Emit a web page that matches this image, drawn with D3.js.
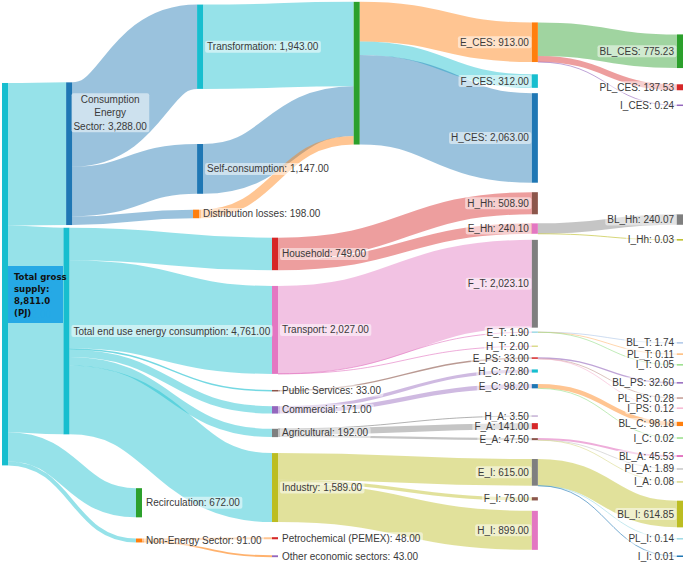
<!DOCTYPE html>
<html><head><meta charset="utf-8">
<script src="https://cdn.jsdelivr.net/npm/d3@7"></script>
<style>body{margin:0;background:#fff}svg{display:block}</style>
</head><body><svg id="c" width="685" height="563"></svg>
<script>
// ---------- DATA ----------
const nodeNames = [
 "Total gross domestic supply","Consumption Energy Sector","Total end use energy consumption","Recirculation","Non-Energy Sector",
 "Transformation","Self-consumption","Distribution losses","CES",
 "Household","Transport","Public Services","Commercial","Agricultural","Industry","Petrochemical (PEMEX)","Other economic sectors",
 "E_CES","F_CES","H_CES","H_Hh","E_Hh","F_T","E_T","H_T","E_PS","H_C","E_C","H_A","F_A","E_A","E_I","F_I","H_I",
 "BL_CES","PL_CES","I_CES","BL_Hh","I_Hh","BL_T","PL_T","I_T","BL_PS","PL_PS","I_PS","BL_C","I_C","BL_A","PL_A","I_A","BL_I","PL_I","I_I"
];
const nodeColors = [
 "#17becf","#1f77b4","#17becf","#2ca02c","#ff7f0e",
 "#17becf","#1f77b4","#ff7f0e","#2ca02c",
 "#d62728","#e377c2","#8c564b","#9467bd","#7f7f7f","#bcbd22","#d62728","#9467bd",
 "#ff7f0e","#17becf","#1f77b4","#8c564b","#e377c2","#7f7f7f","#9edae5","#dbdb8d","#d62728","#17becf","#1f77b4","#c5b0d5","#d62728","#8c564b","#7f7f7f","#8c564b","#e377c2",
 "#2ca02c","#d62728","#9467bd","#7f7f7f","#bcbd22","#aec7e8","#ffbb78","#98df8a","#9467bd","#c49c94","#f7b6d2","#ff7f0e","#98df8a","#e377c2","#c7c7c7","#dbdb8d","#bcbd22","#9edae5","#1f77b4"
];
const linkSources = [
 "Total gross domestic supply","Total gross domestic supply","Total gross domestic supply","Total gross domestic supply",
 "Consumption Energy Sector","Consumption Energy Sector","Consumption Energy Sector",
 "Transformation","Self-consumption","Distribution losses",
 "CES","CES","CES",
 "E_CES","E_CES","E_CES",
 "Total end use energy consumption","Total end use energy consumption","Total end use energy consumption","Total end use energy consumption","Total end use energy consumption","Total end use energy consumption",
 "Household","Household","E_Hh","E_Hh",
 "Transport","Transport","Transport","E_T","E_T","E_T",
 "Public Services","E_PS","E_PS","E_PS",
 "Commercial","Commercial","E_C","E_C",
 "Agricultural","Agricultural","Agricultural","E_A","E_A","E_A",
 "Industry","Industry","Industry","E_I","E_I","E_I",
 "Non-Energy Sector","Non-Energy Sector"
];
const linkTargets = [
 "Consumption Energy Sector","Total end use energy consumption","Recirculation","Non-Energy Sector",
 "Transformation","Self-consumption","Distribution losses",
 "CES","CES","CES",
 "E_CES","F_CES","H_CES",
 "BL_CES","PL_CES","I_CES",
 "Household","Transport","Public Services","Commercial","Agricultural","Industry",
 "H_Hh","E_Hh","BL_Hh","I_Hh",
 "F_T","E_T","H_T","BL_T","PL_T","I_T",
 "E_PS","BL_PS","PL_PS","I_PS",
 "H_C","E_C","BL_C","I_C",
 "H_A","F_A","E_A","BL_A","PL_A","I_A",
 "E_I","F_I","H_I","BL_I","PL_I","I_I",
 "Petrochemical (PEMEX)","Other economic sectors"
];
const linkValues = [
 3288,4761,672,91,
 1943,1147,198,
 1943,1147,198,
 913,312,2063,
 775.23,137.53,0.24,
 749,2027,33,171,192,1589,
 508.9,240.1,240.07,0.03,
 2023.1,1.9,2.0,1.74,0.11,0.05,
 33,32.6,0.28,0.12,
 72.8,98.2,98.18,0.02,
 3.5,141,47.5,45.53,1.89,0.08,
 615,75,899,614.85,0.14,0.01,
 48,43
];
// node arrangement (fractions of the plot, like plotly node.x / node.y)
const nodeX = [
 0,0.095,0.091,0.1985,0.1985,
 0.289,0.289,0.283,0.521,
 0.4,0.4,0.4,0.4,0.4,0.4,0.4,0.4,
 0.785,0.785,0.785,0.785,0.785,0.785,0.785,0.785,0.785,0.785,0.785,0.785,0.785,0.785,0.785,0.785,0.785,
 1,1,1,1,1,1,1,1,1,1,1,1,1,1,1,1,1,1,1
];
const nodeY = [
 0.487,0.273,0.588,0.893,0.960,
 0.083,0.300,0.380,0.130,
 0.451,0.586,0.694,0.728,0.769,0.866,0.956,0.988,
 0.075,0.144,0.245,0.361,0.406,0.504,0.590,0.615,0.636,0.659,0.686,0.739,0.757,0.780,0.839,0.886,0.942,
 0.091,0.155,0.187,0.390,0.426,0.609,0.629,0.648,0.680,0.707,0.725,0.753,0.778,0.810,0.833,0.856,0.913,0.957,0.988
];
const hiddenLabels = ["CES"];
const specialLabels = {
 "Consumption Energy Sector": {lines:["Consumption","Energy","Sector: {v}"], anchor:"middle", dx:38, dy:-41, lh:13.5},
 "Total gross domestic supply": {lines:["Total gross","domestic","supply:","{v}"], anchor:"start", dx:4, dy:22, lh:12.5, faint:true}
};
const overlayLines = ["Total gross","supply:","8,811.0","(PJ)"];

// ---------- LAYOUT ----------
const svg = d3.select("#c");
const xS = d3.scaleLinear().domain([0,1]).range([2,677]);
const yS = d3.scaleLinear().domain([0,1]).range([0,563]);
const vS = d3.scaleLinear().domain([0,8812]).range([0,382.4]);
const NW = 6;
const fmt = d3.format(",.2f");
const idx = new Map(nodeNames.map((n,i)=>[n,i]));
const nodes = nodeNames.map((name,i)=>({name,color:nodeColors[i],x0:xS(nodeX[i]),cy:yS(nodeY[i]),out:[],inn:[]}));
nodes.forEach(n=>n.x1=n.x0+NW);
const links = linkValues.map((v,i)=>{
  const l={s:nodes[idx.get(linkSources[i])],t:nodes[idx.get(linkTargets[i])],v};
  l.s.out.push(l); l.t.inn.push(l); return l;
});
nodes.forEach(n=>{
  n.value=Math.max(d3.sum(n.out,l=>l.v),d3.sum(n.inn,l=>l.v));
  n.h=vS(n.value); n.y0=n.cy-n.h/2;
  n.out.sort((a,b)=>a.t.cy-b.t.cy);
  n.inn.sort((a,b)=>a.s.cy-b.s.cy);
  let o=n.y0; n.out.forEach(l=>{l.w=vS(l.v); l.sy=o+l.w/2; o+=l.w;});
  let p=n.y0; n.inn.forEach(l=>{l.ty=p+vS(l.v)/2; p+=vS(l.v);});
});
const lastX = xS(1);
links.forEach(l=>{ l.color = (l.t.x0>=lastX-1 || l.s.name==="CES") ? l.t.color : l.s.color; });

// ---------- DRAW ----------
svg.append("g").selectAll("path").data(links).join("path")
  .attr("d",l=>{const xa=l.s.x1, xb=l.t.x0, xm=(xa+xb)/2;
     return `M${xa},${l.sy}C${xm},${l.sy} ${xm},${l.ty} ${xb},${l.ty}`;})
  .attr("fill","none")
  .attr("stroke",l=>l.color)
  .attr("stroke-opacity",l=>l.w<2?0.6:0.45)
  .attr("stroke-width",l=>Math.max(l.w,1));

svg.append("g").selectAll("rect").data(nodes).join("rect")
  .attr("x",n=>n.x0).attr("y",n=>n.h<1.5?n.cy-0.75:n.y0)
  .attr("width",NW).attr("height",n=>Math.max(n.h,1.5))
  .attr("fill",n=>n.color);

const lg = svg.append("g").attr("font-family","'Liberation Sans', Arial, sans-serif").attr("font-size","10px");
nodes.forEach(n=>{
  if(hiddenLabels.includes(n.name)) return;
  const sp = specialLabels[n.name];
  const right = n.x0 < xS(0.7);
  const g = lg.append("g");
  let lines, anchor, x, y0, lh;
  if(sp){
    lines = sp.lines.map(s=>s.replace("{v}",fmt(n.value)));
    anchor = sp.anchor; x = n.x1+sp.dx; lh=sp.lh;
    y0 = n.cy+sp.dy-(lines.length-1)*lh/2;
  } else {
    lines=[`${n.name}: ${fmt(n.value)}`];
    anchor = right?"start":"end"; x = right? n.x1+4 : n.x0-3; lh=12; y0=n.cy;
  }
  const bg = g.append("rect");
  const t = g.append("text").attr("text-anchor",anchor)
    .attr("fill", sp&&sp.faint ? "#8fd0ee" : "#3a3a3a");
  lines.forEach((s,i)=>t.append("tspan").attr("x",x).attr("y",y0+i*lh).attr("dy","0.35em").text(s));
  const b = t.node().getBBox();
  bg.attr("x",b.x-2).attr("y",b.y-0.5).attr("width",b.width+4).attr("height",b.height+1)
    .attr("rx",2).attr("fill","#fff").attr("fill-opacity", sp&&sp.faint?0:0.5);
  if(sp&&sp.faint) t.lower();
});

// overlay annotation box on the supply node
const tg = nodes[0];
const ov = svg.append("g");
ov.append("rect").attr("x",tg.x1).attr("y",266).attr("width",55).attr("height",57)
  .attr("fill","#1aa3e4").attr("fill-opacity",0.9);
const ot = ov.append("text").attr("font-family","'Liberation Sans Narrow','DejaVu Sans Condensed',sans-serif")
  .attr("font-weight","bold").attr("font-size","9.5px").attr("fill","#111");
overlayLines.forEach((s,i)=>ot.append("tspan").attr("x",tg.x1+6).attr("y",277+i*12).attr("dy","0.35em").text(s));
</script>
</body></html>
